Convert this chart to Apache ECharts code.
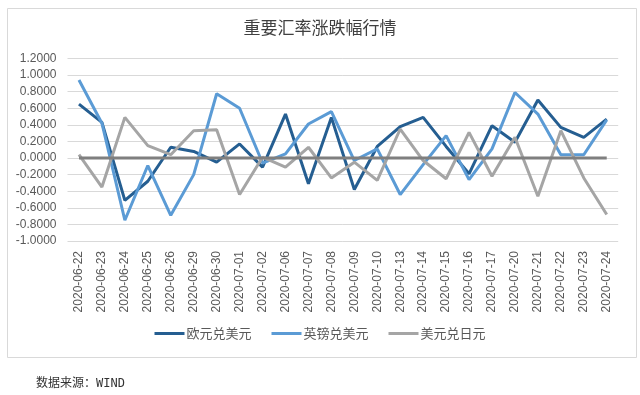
<!DOCTYPE html>
<html>
<head>
<meta charset="utf-8">
<script src="https://cdn.jsdelivr.net/npm/echarts@6/dist/echarts.min.js"></script>
<style>html,body{margin:0;padding:0;background:#fff;}#c{width:640px;height:395px;}</style>
</head>
<body>
<div id="c"></div>
<script>
var categories = ['2020-06-22','2020-06-23','2020-06-24','2020-06-25','2020-06-26','2020-06-29','2020-06-30',
  '2020-07-01','2020-07-02','2020-07-06','2020-07-07','2020-07-08','2020-07-09','2020-07-10',
  '2020-07-13','2020-07-14','2020-07-15','2020-07-16','2020-07-17','2020-07-20','2020-07-21',
  '2020-07-22','2020-07-23','2020-07-24'];
var eurUsd = [0.65,0.43,-0.51,-0.28,0.13,0.08,-0.05,0.17,-0.11,0.53,-0.31,0.49,-0.38,0.14,0.38,0.49,0.14,-0.19,0.39,0.19,0.70,0.37,0.25,0.47];
var gbpUsd = [0.94,0.42,-0.75,-0.09,-0.69,-0.20,0.775,0.60,-0.06,0.05,0.41,0.56,-0.03,0.11,-0.44,-0.08,0.27,-0.26,0.11,0.79,0.53,0.04,0.04,0.46];
var usdJpy = [0.04,-0.35,0.49,0.15,0.04,0.33,0.34,-0.44,0.01,-0.11,0.13,-0.24,-0.05,-0.27,0.35,-0.03,-0.25,0.31,-0.22,0.25,-0.46,0.33,-0.24,-0.68];
var zeroLine = [0,0,0,0,0,0,0,0,0,0,0,0,0,0,0,0,0,0,0,0,0,0,0,0];
var seriesNames = ['欧元兑美元','英镑兑美元','美元兑日元'];
var yMin = -1, yMax = 1.2, yStep = 0.2;

var chart = echarts.init(document.getElementById('c'), null, {renderer:'canvas'});
var cjk = '"Noto Sans CJK SC", sans-serif';
var latin = '"Liberation Sans", Arial, sans-serif';
function line(name, data, color) {
  return {name:name, type:'line', data:data, symbol:'none', smooth:false,
    lineStyle:{color:color, width:3}, itemStyle:{color:color}, animation:false};
}
chart.setOption({
  backgroundColor:'#ffffff',
  animation:false,
  title:{text:'重要汇率涨跌幅行情', left:'center', top:14,
    textStyle:{fontFamily:cjk, fontSize:17, fontWeight:'normal', color:'#404040'}},
  legend:{data:seriesNames, top:322, left:'center', itemWidth:30, itemHeight:3, itemGap:20,
    icon:'rect',
    textStyle:{fontFamily:cjk, fontSize:13, color:'#595959', padding:[0,0,0,-3]}},
  grid:{left:67.5, right:21.8, top:58.5, bottom:154, containLabel:false},
  xAxis:{type:'category', data:categories, boundaryGap:true,
    axisLine:{show:false}, axisTick:{show:false},
    axisLabel:{rotate:90, margin:10, interval:0, fontFamily:latin, fontSize:12, color:'#595959'}},
  yAxis:{type:'value', min:yMin, max:yMax, interval:yStep,
    axisLine:{show:false}, axisTick:{show:false},
    splitLine:{lineStyle:{color:'#d9d9d9', width:1}},
    axisLabel:{margin:11, fontFamily:latin, fontSize:12, color:'#595959',
      formatter:function(v){return (Math.round(v*10000)/10000).toFixed(4);}}},
  series:[
    line(seriesNames[0], eurUsd, '#255e91'),
    line(seriesNames[1], gbpUsd, '#5b9bd5'),
    line(seriesNames[2], usdJpy, '#a5a5a5'),
    line('零线', zeroLine, '#7f7f7f')
  ],
  graphic:[
    {type:'rect', left:5, top:6, shape:{x:0,y:0,width:629,height:349},
      style:{fill:'none', stroke:'#d9d9d9', lineWidth:1}, silent:true, z:-1},
    {type:'text', left:36, top:378,
      style:{text:'数据来源：WIND', font:'12px "DejaVu Sans Mono", "Noto Sans CJK SC", monospace', fill:'#333333'}}
  ]
});
</script>
</body>
</html>
